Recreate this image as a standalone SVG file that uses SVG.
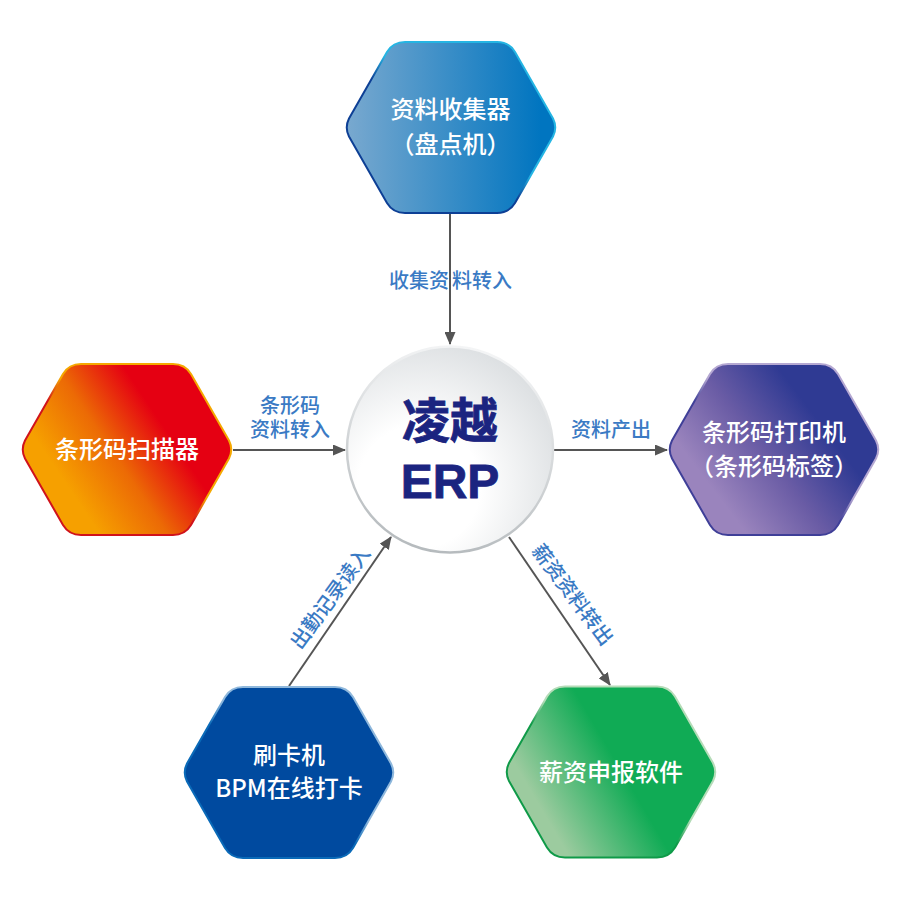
<svg xmlns="http://www.w3.org/2000/svg" width="900" height="900" viewBox="0 0 900 900">
<defs>
<style>
.hex{stroke-width:2;stroke-linejoin:round}
.t{font-family:"Noto Sans CJK SC","Noto Sans",sans-serif;font-size:24px;font-weight:500;fill:#fff;text-anchor:middle}
.l{font-family:"Noto Sans CJK SC","Noto Sans",sans-serif;font-size:20px;font-weight:500;fill:#3a7ac4;text-anchor:middle}
.c{stroke:#555;stroke-width:2;fill:none;marker-end:url(#a)}
.e{font-family:"Liberation Sans","Noto Sans CJK SC",sans-serif;font-weight:bold;font-size:48px;fill:#1b2480;stroke:#1b2480;stroke-width:.8;text-anchor:middle}
</style>
<marker id="a" markerWidth="13" markerHeight="11" refX="12" refY="5.500" orient="auto" markerUnits="userSpaceOnUse"><path d="M0 0L13 5.500L0 11z" fill="#555"/></marker>
<path id="h" d="M-46 -85.500H46Q58 -85.500 64 -75.500L102 -9Q106.500 0 102 9L64 75.500Q58 85.500 46 85.500H-46Q-58 85.500 -64 75.500L-102 9Q-106.500 0 -102 -9L-64 -75.500Q-58 -85.500 -46 -85.500Z"/>
<linearGradient id="g1" gradientUnits="userSpaceOnUse" x1="-106" y1="0" x2="90" y2="0"><stop offset="0" stop-color="#7aa9cf"/><stop offset="1" stop-color="#0075c0"/></linearGradient>
<linearGradient id="s1" x1="0" y1="1" x2="1" y2="0"><stop offset=".45" stop-color="#0d3f95"/><stop offset=".55" stop-color="#25b5e3"/></linearGradient>
<linearGradient id="g2" gradientUnits="userSpaceOnUse" x1="-58" y1="39" x2="36" y2="-24"><stop offset="0" stop-color="#f6a000"/><stop offset=".5" stop-color="#ec6a05"/><stop offset="1" stop-color="#e50012"/></linearGradient>
<linearGradient id="s2" x1="0" y1="1" x2="1" y2="0"><stop offset=".45" stop-color="#d0121b"/><stop offset=".55" stop-color="#f5a800"/></linearGradient>
<linearGradient id="g3" gradientUnits="userSpaceOnUse" x1="-58" y1="44" x2="42" y2="-32"><stop offset="0" stop-color="#9a84bd"/><stop offset=".5" stop-color="#6a5ca5"/><stop offset="1" stop-color="#2f3a93"/></linearGradient>
<linearGradient id="s3" x1="0" y1="1" x2="1" y2="0"><stop offset=".45" stop-color="#3f3f98"/><stop offset=".55" stop-color="#b5a8d2"/></linearGradient>
<linearGradient id="s4" x1="0" y1="1" x2="1" y2="0"><stop offset=".45" stop-color="#0a6ab8"/><stop offset=".55" stop-color="#8fb8dc"/></linearGradient>
<linearGradient id="g5" gradientUnits="userSpaceOnUse" x1="-68" y1="40" x2="8.500" y2="-5"><stop offset="0" stop-color="#9ccb9f"/><stop offset="1" stop-color="#10ab55"/></linearGradient>
<linearGradient id="s5" x1="0" y1="1" x2="1" y2="0"><stop offset=".45" stop-color="#0f9a48"/><stop offset=".55" stop-color="#b5dcb8"/></linearGradient>
<radialGradient id="gc" cx=".35" cy=".68" r=".85"><stop offset=".35" stop-color="#fff"/><stop offset="1" stop-color="#d3d7da"/></radialGradient>
<linearGradient id="sc" x1=".6" y1="0" x2=".4" y2="1"><stop offset="0" stop-color="#f4f5f6"/><stop offset="1" stop-color="#b5babd"/></linearGradient>
</defs>
<rect width="900" height="900" fill="#fff"/>
<g id="connectors">
<path class="c" d="M450 214V344"/>
<path class="c" d="M233 450H345"/>
<path class="c" d="M554 450H667"/>
<path class="c" d="M289 686L391 537"/>
<path class="c" d="M509 537L610 685"/>
</g>
<g id="edge-labels">
<text class="l" x="450.500" y="288">收集资<tspan dx="3">料转入</tspan></text>
<text class="l"><tspan x="290" y="413">条形码</tspan><tspan x="290" y="437">资料转入</tspan></text>
<text class="l" x="611" y="437">资料产出</text>
<text class="l" transform="translate(336 602) rotate(-54)">出勤记录读入</text>
<text class="l" transform="translate(567 599) rotate(53)">薪资资料转出</text>
</g>
<g id="node-top"><use href="#h" x="451" y="127.500" fill="url(#g1)" stroke="url(#s1)" class="hex"/>
<text class="t" x="450.500" y="118">资料收集器</text><text class="t" x="450.500" y="153">（盘点机）</text></g>
<g id="node-left"><use href="#h" x="127" y="449.500" fill="url(#g2)" stroke="url(#s2)" class="hex"/>
<text class="t" x="127" y="458">条形码扫描器</text></g>
<g id="node-right"><use href="#h" x="774" y="449.500" fill="url(#g3)" stroke="url(#s3)" class="hex"/>
<text class="t" x="774" y="441">条形码打印机</text><text class="t" x="774" y="475">（条形码标签）</text></g>
<g id="node-bl"><use href="#h" x="289" y="772.500" fill="#004a9f" stroke="url(#s4)" class="hex"/>
<text class="t" x="289" y="764">刷卡机</text><text class="t" x="289" y="797">BPM在线打卡</text></g>
<g id="node-br"><use href="#h" x="611" y="772" fill="url(#g5)" stroke="url(#s5)" class="hex"/>
<text class="t" x="611" y="781">薪资申报软件</text></g>
<g id="node-center"><circle cx="450" cy="449.500" r="103" fill="url(#gc)" stroke="url(#sc)" stroke-width="2.500"/>
<text class="e" x="450" y="438">凌越</text><text class="e" x="450" y="498">ERP</text></g>
</svg>
